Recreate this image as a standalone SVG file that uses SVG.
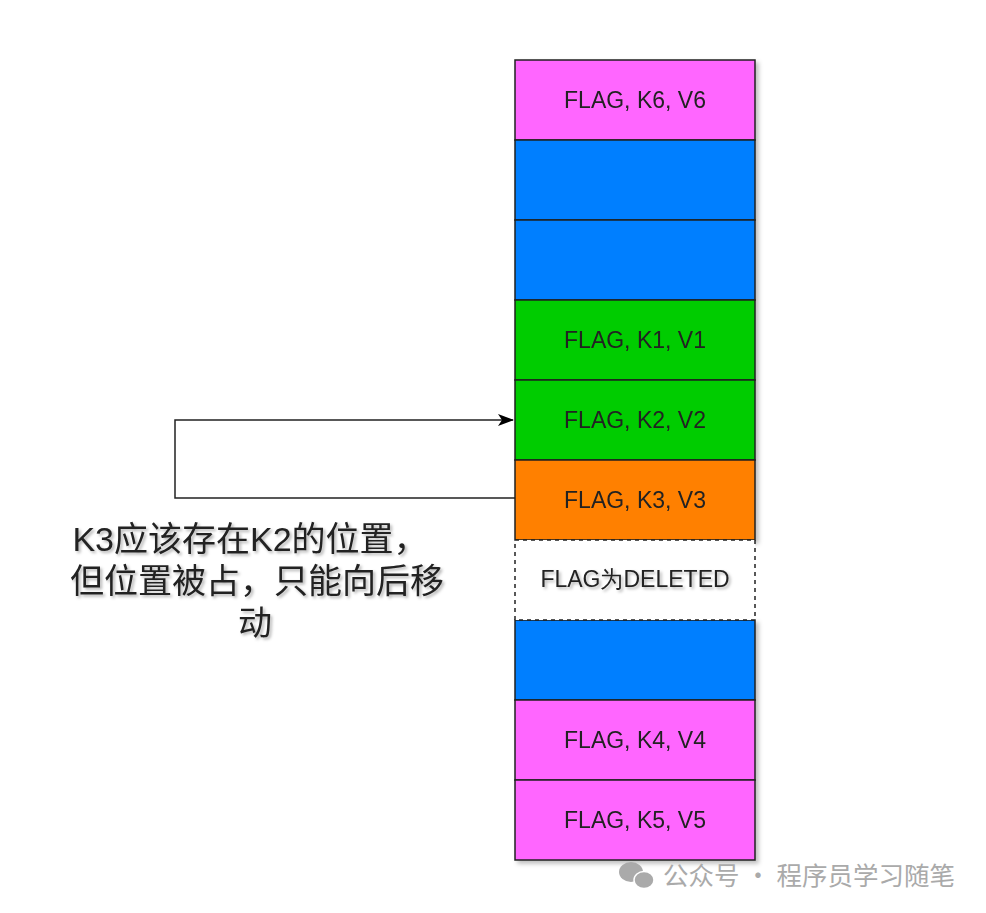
<svg xmlns="http://www.w3.org/2000/svg" width="986" height="913" viewBox="0 0 986 913">
<defs>
<filter id="sh" x="-20%" y="-20%" width="140%" height="140%"><feDropShadow dx="3" dy="3" stdDeviation="2" flood-color="#000" flood-opacity="0.25"/></filter>
<filter id="tsh" x="-10%" y="-30%" width="120%" height="160%"><feDropShadow dx="2" dy="2" stdDeviation="1.5" flood-color="#000" flood-opacity="0.3"/></filter>
<marker id="ar" markerWidth="16" markerHeight="12" refX="15" refY="6" orient="auto" markerUnits="userSpaceOnUse"><path d="M0,0 L16,6 L0,12 L4,6 Z" fill="#000"/></marker>
</defs>
<style>
.c{stroke:#222;stroke-width:1.5}
.t{font-family:"Liberation Sans",Arial,sans-serif;font-size:23px;fill:#222;text-anchor:middle;dominant-baseline:central}
.big{font-family:"Liberation Sans","Noto Sans CJK SC",sans-serif;font-size:34px;fill:#222;text-anchor:middle}
</style>
<rect width="986" height="913" fill="#fff"/>
<g filter="url(#sh)">
<g id="n1"><rect class="c" x="515" y="60" width="240" height="80" fill="#ff66ff"/><text class="t" x="635" y="100">FLAG, K6, V6</text></g>
<g id="n2"><rect class="c" x="515" y="140" width="240" height="80" fill="#007fff"/></g>
<g id="n3"><rect class="c" x="515" y="220" width="240" height="80" fill="#007fff"/></g>
<g id="n4"><rect class="c" x="515" y="300" width="240" height="80" fill="#00cc00"/><text class="t" x="635" y="340">FLAG, K1, V1</text></g>
<g id="n5"><rect class="c" x="515" y="380" width="240" height="80" fill="#00cc00"/><text class="t" x="635" y="420">FLAG, K2, V2</text></g>
<g id="n6"><rect class="c" x="515" y="460" width="240" height="80" fill="#ff8000"/><text class="t" x="635" y="500">FLAG, K3, V3</text></g>
<g id="n8"><rect class="c" x="515" y="620" width="240" height="80" fill="#007fff"/></g>
<g id="n9"><rect class="c" x="515" y="700" width="240" height="80" fill="#ff66ff"/><text class="t" x="635" y="740">FLAG, K4, V4</text></g>
<g id="n10"><rect class="c" x="515" y="780" width="240" height="80" fill="#ff66ff"/><text class="t" x="635" y="820">FLAG, K5, V5</text></g>
</g>
<g id="n7"><rect x="515" y="540" width="240" height="80" fill="#fff" stroke="#222" stroke-width="1.5" stroke-dasharray="4 4"/><text class="t" x="635" y="579" font-size="21" filter="url(#tsh)">FLAG为DELETED</text></g>
<g id="connectors"><path d="M515,498 H175 V420 H513" fill="none" stroke="#222" stroke-width="1.5" marker-end="url(#ar)"/></g>
<g id="label" filter="url(#tsh)">
<text class="big" x="250" y="551">K3应该存在K2的位置，</text>
<text class="big" x="257" y="593">但位置被占，只能向后移</text>
<text class="big" x="255" y="635">动</text>
</g>
<g id="watermark" fill="#aaa">
<ellipse cx="631" cy="872" rx="12" ry="10"/><ellipse cx="644" cy="880" rx="10" ry="8.5" stroke="#fff" stroke-width="1.5"/>
<text x="663" y="885" font-family="'Noto Sans CJK SC',sans-serif" font-size="25.5" fill="#aaa">公众号 · 程序员学习随笔</text>
</g>
</svg>
